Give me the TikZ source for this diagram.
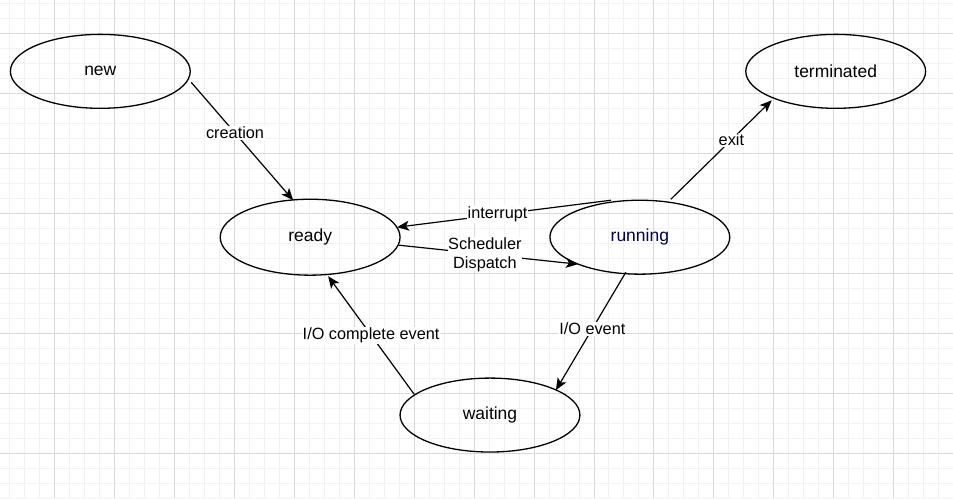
\documentclass[tikz,border=0pt]{standalone}
\usepackage{fontspec}
\setmainfont{Liberation Sans}
\usetikzlibrary{shapes.geometric,arrows.meta}
\begin{document}
\begin{tikzpicture}[x=1pt,y=-1pt,
  st/.style={draw,line width=1.3pt,ellipse,minimum width=180pt,minimum height=74pt,inner sep=0pt,font=\fontsize{17.5}{20}\selectfont},
  ar/.style={line width=1.2pt,-{Stealth[length=12pt,width=10pt,inset=3pt]}},
  lb/.style={fill=white,inner sep=1pt,font=\fontsize{16.3}{19}\selectfont,align=center}]
\fill[white] (0,0) rectangle (953,498);
\foreach \x in {9,24,...,953} \draw[black!5,line width=0.8pt] (\x,0) -- (\x,498);
\foreach \y in {3,18,...,498} \draw[black!5,line width=0.8pt] (0,\y) -- (953,\y);
\foreach \x in {54,114,...,953} \draw[black!15,line width=0.8pt] (\x,0) -- (\x,498);
\foreach \y in {33,93,...,498} \draw[black!15,line width=0.8pt] (0,\y) -- (953,\y);
\useasboundingbox (0,0) rectangle (953,498);
\node[st] (new) at (100,71) {new};
\node[st] (term) at (836,71) {terminated};
\node[st,minimum height=76pt] (ready) at (310,237) {ready};
\node[st,text=blue!25!black] (run) at (640,237) {running};
\node[st] (wait) at (490,415) {waiting};
\coordinate (a1) at (191,82); \coordinate (a2) at (293,200);
\draw[ar] (a1) -- node[lb,pos=0.43] {creation} (a2);
\coordinate (b1) at (671,199); \coordinate (b2) at (772,100);
\draw[ar] (b1) -- node[lb,pos=0.6] {exit} (b2);
\coordinate (c1) at (611,200); \coordinate (c2) at (397,227);
\draw[ar] (c1) -- node[lb,pos=0.53] {interrupt} (c2);
\coordinate (d1) at (399,245); \coordinate (d2) at (578,264);
\draw[ar] (d1) -- node[lb,pos=0.48,inner sep=0pt] {Scheduler\\Dispatch} (d2);
\coordinate (e1) at (626,272); \coordinate (e2) at (556,390);
\draw[ar] (e1) -- node[lb,pos=0.48] {I/O event} (e2);
\coordinate (f1) at (414,394); \coordinate (f2) at (328,276);
\draw[ar] (f1) -- node[lb,pos=0.5] {I/O complete event} (f2);
\end{tikzpicture}
\end{document}
